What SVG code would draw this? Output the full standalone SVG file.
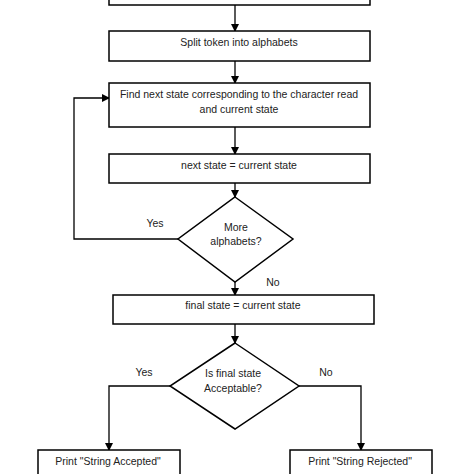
<svg xmlns="http://www.w3.org/2000/svg" width="474" height="474" viewBox="0 0 474 474">
<defs>
<marker id="ah" markerWidth="8" markerHeight="8" refX="7" refY="4" orient="auto" markerUnits="userSpaceOnUse">
<path d="M0,0 L8,4 L0,8 Z" fill="#000"/>
</marker>
<style>
.box{fill:#fff;stroke:#000;stroke-width:1.5}
.ln{fill:none;stroke:#000;stroke-width:1.3;marker-end:url(#ah)}
text{font-family:"Liberation Sans",Arial,sans-serif;font-size:10.5px;fill:#222;text-anchor:middle}
</style>
</defs>
<rect width="474" height="474" fill="#fff"/>
<g id="connectors">
<line class="ln" x1="235" y1="5" x2="235" y2="31"/>
<line class="ln" x1="235" y1="61" x2="235" y2="83"/>
<line class="ln" x1="235" y1="127" x2="235" y2="154"/>
<line class="ln" x1="235" y1="183" x2="235" y2="197"/>
<polyline class="ln" points="178,239 74,239 74,98 109,98"/>
<line class="ln" x1="235" y1="282" x2="235" y2="295"/>
<line class="ln" x1="235" y1="324" x2="235" y2="343"/>
<polyline class="ln" points="170,386 109,386 109,450"/>
<polyline class="ln" points="299,386 361,386 361,450"/>
</g>
<g id="labels">
<text x="155" y="227">Yes</text>
<text x="273" y="286">No</text>
<text x="144" y="376">Yes</text>
<text x="326" y="376">No</text>
</g>
<g id="n0"><rect class="box" x="109" y="-25" width="261" height="30"/></g>
<g id="n1"><rect class="box" x="109" y="31" width="261" height="30"/><text x="239" y="46">Split token into alphabets</text></g>
<g id="n2"><rect class="box" x="109" y="83" width="261" height="44"/><text x="239" y="98">Find next state corresponding to the character read</text><text x="239" y="113">and current state</text></g>
<g id="n3"><rect class="box" x="109" y="154" width="261" height="29"/><text x="239" y="169">next state = current state</text></g>
<g id="n4"><polygon class="box" points="235,197 293,239 235,282 178,239"/><text x="236" y="231">More</text><text x="236" y="245">alphabets?</text></g>
<g id="n5"><rect class="box" x="113" y="295" width="261" height="29"/><text x="243" y="309">final state = current state</text></g>
<g id="n6"><polygon class="box" points="235,343 299,386 235,429 170,386"/><text x="233" y="377">Is final state</text><text x="233" y="392">Acceptable?</text></g>
<g id="n7"><rect class="box" x="38" y="450" width="142" height="40"/><text x="108" y="465">Print "String Accepted"</text></g>
<g id="n8"><rect class="box" x="290" y="450" width="142" height="40"/><text x="360" y="465">Print "String Rejected"</text></g>
</svg>
